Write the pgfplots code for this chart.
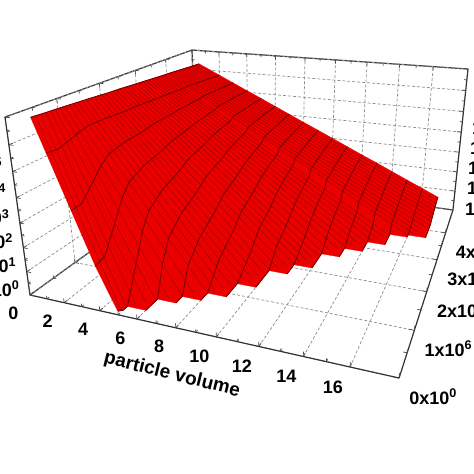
\documentclass[border=0pt]{standalone}
\usepackage{fontspec}
\setmainfont{Liberation Sans}
\usepackage{pgfplots}
\pgfplotsset{compat=1.18}
\makeatletter
% the reference is seen in perspective: divide the linear projection by a depth term
\gdef\perspqpoint#1#2#3{%
  \pgfmathsetmacro\perswt{1/(1-0.010222*#1+0.0958*#2-0.013714*#3)}%
  \global\pgf@x=#1\pgf@xx
  \global\advance\pgf@x by #2\pgf@yx
  \global\advance\pgf@x by #3\pgf@zx
  \global\pgf@y=#1\pgf@xy
  \global\advance\pgf@y by #2\pgf@yy
  \global\advance\pgf@y by #3\pgf@zy
  \global\pgf@x=\perswt\pgf@x
  \global\pgf@y=\perswt\pgf@y
}
\makeatother
% columns x = const; y in units of 10^6; z = log10 of the value
\pgfplotstableread[row sep=\\]{
x y z\\
1.4 0 7.1\\ 1.38 .12 7.08\\ 1.36 .22 7.06\\ 1.31 .52 7.02\\ 1.27 .7 6.99\\ 1.24 .9 6.96\\ 1.17 1.28 6.9\\ 1.08 1.79 6.81\\ 1.02 2.09 6.77\\ .94 2.57 6.69\\ .88 2.87 6.64\\ .82 3.22 6.58\\ .75 3.62 6.52\\ .73 3.7 6.51\\ .64 4.2 6.43\\ .57 4.6 6.36\\ .5 5 6.3\\ .5 5 nan\\
2 0 5.88\\ 2 .12 5.85\\ 2 .22 5.82\\ 2 .52 5.99\\ 2 .7 6.1\\ 2 .9 6.18\\ 2 1.28 6.17\\ 2 1.79 6.1\\ 2 2.09 6.1\\ 2 2.57 6.05\\ 2 2.87 6.03\\ 2 3.22 5.99\\ 2 3.62 5.95\\ 2 3.7 5.97\\ 2 4.2 5.9\\ 2 4.6 5.84\\ 2 5 5.78\\ 2 5 nan\\
3 0 3.85\\ 3 .12 3.87\\ 3 .22 3.88\\ 3 .52 4.49\\ 3 .7 4.88\\ 3 .9 5.15\\ 3 1.28 5.29\\ 3 1.79 5.34\\ 3 2.09 5.42\\ 3 2.57 5.45\\ 3 2.87 5.48\\ 3 3.22 5.49\\ 3 3.62 5.49\\ 3 3.7 5.54\\ 3 4.2 5.5\\ 3 4.6 5.47\\ 3 5 5.43\\ 3 5 nan\\
4 0 1.83\\ 4 .12 1.88\\ 4 .22 1.94\\ 4 .52 2.99\\ 4 .7 3.66\\ 4 .9 4.12\\ 4 1.28 4.41\\ 4 1.79 4.58\\ 4 2.09 4.75\\ 4 2.57 4.84\\ 4 2.87 4.93\\ 4 3.22 4.99\\ 4 3.62 5.03\\ 4 3.7 5.11\\ 4 4.2 5.11\\ 4 4.6 5.1\\ 4 5 5.08\\ 4 5 nan\\
5 0 .15\\ 5 .12 0\\ 5 .22 0\\ 5 .52 1.5\\ 5 .7 2.44\\ 5 .9 3.09\\ 5 1.28 3.52\\ 5 1.79 3.82\\ 5 2.09 4.07\\ 5 2.57 4.24\\ 5 2.87 4.38\\ 5 3.22 4.49\\ 5 3.62 4.58\\ 5 3.7 4.69\\ 5 4.2 4.72\\ 5 4.6 4.73\\ 5 5 4.74\\ 5 5 nan\\
6 0 nan\\ 6 .12 nan\\ 6 .22 0\\ 6 .52 0\\ 6 .7 1.22\\ 6 .9 2.06\\ 6 1.28 2.64\\ 6 1.79 3.05\\ 6 2.09 3.39\\ 6 2.57 3.63\\ 6 2.87 3.84\\ 6 3.22 3.99\\ 6 3.62 4.12\\ 6 3.7 4.26\\ 6 4.2 4.32\\ 6 4.6 4.37\\ 6 5 4.39\\ 6 5 nan\\
7 0 nan\\ 7 .12 nan\\ 7 .22 nan\\ 7 .52 0\\ 7 .7 0\\ 7 .9 1.03\\ 7 1.28 1.76\\ 7 1.79 2.29\\ 7 2.09 2.71\\ 7 2.57 3.03\\ 7 2.87 3.29\\ 7 3.22 3.49\\ 7 3.62 3.66\\ 7 3.7 3.84\\ 7 4.2 3.93\\ 7 4.6 4\\ 7 5 4.04\\ 7 5 nan\\
8 0 nan\\ 8 .12 nan\\ 8 .22 nan\\ 8 .52 nan\\ 8 .7 0\\ 8 .9 0\\ 8 1.28 .88\\ 8 1.79 1.53\\ 8 2.09 2.03\\ 8 2.57 2.42\\ 8 2.87 2.74\\ 8 3.22 2.99\\ 8 3.62 3.2\\ 8 3.7 3.41\\ 8 4.2 3.54\\ 8 4.6 3.63\\ 8 5 3.69\\ 8 5 nan\\
9 0 nan\\ 9 .12 nan\\ 9 .22 nan\\ 9 .52 nan\\ 9 .7 nan\\ 9 .9 0\\ 9 1.28 0\\ 9 1.79 .76\\ 9 2.09 1.36\\ 9 2.57 1.82\\ 9 2.87 2.19\\ 9 3.22 2.5\\ 9 3.62 2.75\\ 9 3.7 2.98\\ 9 4.2 3.14\\ 9 4.6 3.27\\ 9 5 3.35\\ 9 5 nan\\
10 0 nan\\ 10 .12 nan\\ 10 .22 nan\\ 10 .52 nan\\ 10 .7 nan\\ 10 .9 nan\\ 10 1.28 0\\ 10 1.79 0\\ 10 2.09 .68\\ 10 2.57 1.21\\ 10 2.87 1.64\\ 10 3.22 2\\ 10 3.62 2.29\\ 10 3.7 2.56\\ 10 4.2 2.75\\ 10 4.6 2.9\\ 10 5 3\\ 10 5 nan\\
11 0 nan\\ 11 .12 nan\\ 11 .22 nan\\ 11 .52 nan\\ 11 .7 nan\\ 11 .9 nan\\ 11 1.28 nan\\ 11 1.79 0\\ 11 2.09 0\\ 11 2.57 .61\\ 11 2.87 1.1\\ 11 3.22 1.5\\ 11 3.62 1.83\\ 11 3.7 2.13\\ 11 4.2 2.36\\ 11 4.6 2.53\\ 11 5 2.65\\ 11 5 nan\\
12 0 nan\\ 12 .12 nan\\ 12 .22 nan\\ 12 .52 nan\\ 12 .7 nan\\ 12 .9 nan\\ 12 1.28 nan\\ 12 1.79 nan\\ 12 2.09 0\\ 12 2.57 0\\ 12 2.87 .55\\ 12 3.22 1\\ 12 3.62 1.37\\ 12 3.7 1.7\\ 12 4.2 1.97\\ 12 4.6 2.17\\ 12 5 2.3\\ 12 5 nan\\
13 0 nan\\ 13 .12 nan\\ 13 .22 nan\\ 13 .52 nan\\ 13 .7 nan\\ 13 .9 nan\\ 13 1.28 nan\\ 13 1.79 nan\\ 13 2.09 nan\\ 13 2.57 0\\ 13 2.87 0\\ 13 3.22 .5\\ 13 3.62 .92\\ 13 3.7 1.28\\ 13 4.2 1.57\\ 13 4.6 1.8\\ 13 5 1.96\\ 13 5 nan\\
14 0 nan\\ 14 .12 nan\\ 14 .22 nan\\ 14 .52 nan\\ 14 .7 nan\\ 14 .9 nan\\ 14 1.28 nan\\ 14 1.79 nan\\ 14 2.09 nan\\ 14 2.57 nan\\ 14 2.87 0\\ 14 3.22 0\\ 14 3.62 .46\\ 14 3.7 .85\\ 14 4.2 1.18\\ 14 4.6 1.43\\ 14 5 1.61\\ 14 5 nan\\
15 0 nan\\ 15 .12 nan\\ 15 .22 nan\\ 15 .52 nan\\ 15 .7 nan\\ 15 .9 nan\\ 15 1.28 nan\\ 15 1.79 nan\\ 15 2.09 nan\\ 15 2.57 nan\\ 15 2.87 nan\\ 15 3.22 0\\ 15 3.62 0\\ 15 3.7 .43\\ 15 4.2 .79\\ 15 4.6 1.06\\ 15 5 1.26\\ 15 5 nan\\
16 0 nan\\ 16 .12 nan\\ 16 .22 nan\\ 16 .52 nan\\ 16 .7 nan\\ 16 .9 nan\\ 16 1.28 nan\\ 16 1.79 nan\\ 16 2.09 nan\\ 16 2.57 nan\\ 16 2.87 nan\\ 16 3.22 nan\\ 16 3.62 0\\ 16 3.7 0\\ 16 4.2 .39\\ 16 4.6 .7\\ 16 5 .92\\ 16 5 nan\\
17 0 nan\\ 17 .12 nan\\ 17 .22 nan\\ 17 .52 nan\\ 17 .7 nan\\ 17 .9 nan\\ 17 1.28 nan\\ 17 1.79 nan\\ 17 2.09 nan\\ 17 2.57 nan\\ 17 2.87 nan\\ 17 3.22 nan\\ 17 3.62 nan\\ 17 3.7 0\\ 17 4.2 0\\ 17 4.6 .33\\ 17 5 .57\\ 17 5 nan\\
}\surfdata
% fine lines of constant y, each from the ridge to where it reaches the floor
\pgfplotstableread[row sep=\\]{
x y z\\
1.38 .1 7.08\\ 4.94 .1 0\\ 0 .1 nan\\ 1.36 .2 7.07\\ 4.99 .2 0\\ 0 .2 nan\\ 1.35 .3 7.05\\ 5.27 .3 0\\ 0 .3 nan\\ 1.33 .4 7.04\\ 5.6 .4 0\\ 0 .4 nan\\ 1.31 .5 7.02\\ 5.93 .5 0\\ 0 .5 nan\\
1.29 .6 7\\ 6.44 .6 0\\ 0 .6 nan\\ 1.27 .7 6.99\\ 7 .7 0\\ 0 .7 nan\\ 1.26 .8 6.97\\ 7.5 .8 0\\ 0 .8 nan\\ 1.24 .9 6.96\\ 8 .9 0\\ 0 .9 nan\\ 1.22 1 6.94\\ 8.26 1 0\\ 0 1 nan\\
1.2 1.1 6.92\\ 8.53 1.1 0\\ 0 1.1 nan\\ 1.18 1.2 6.91\\ 8.79 1.2 0\\ 0 1.2 nan\\ 1.17 1.3 6.89\\ 9.04 1.3 0\\ 0 1.3 nan\\ 1.15 1.4 6.88\\ 9.24 1.4 0\\ 0 1.4 nan\\ 1.13 1.5 6.86\\ 9.43 1.5 0\\ 0 1.5 nan\\
1.11 1.6 6.84\\ 9.63 1.6 0\\ 0 1.6 nan\\ 1.09 1.7 6.83\\ 9.82 1.7 0\\ 0 1.7 nan\\ 1.08 1.8 6.81\\ 10.03 1.8 0\\ 0 1.8 nan\\ 1.06 1.9 6.8\\ 10.37 1.9 0\\ 0 1.9 nan\\ 1.04 2 6.78\\ 10.7 2 0\\ 0 2 nan\\
1.02 2.1 6.76\\ 11.02 2.1 0\\ 0 2.1 nan\\ 1 2.2 6.75\\ 11.23 2.2 0\\ 0 2.2 nan\\ .99 2.3 6.73\\ 11.44 2.3 0\\ 0 2.3 nan\\ .97 2.4 6.72\\ 11.65 2.4 0\\ 0 2.4 nan\\ .95 2.5 6.7\\ 11.85 2.5 0\\ 0 2.5 nan\\
.93 2.6 6.68\\ 12.1 2.6 0\\ 0 2.6 nan\\ .91 2.7 6.67\\ 12.43 2.7 0\\ 0 2.7 nan\\ .9 2.8 6.65\\ 12.77 2.8 0\\ 0 2.8 nan\\ .88 2.9 6.64\\ 13.09 2.9 0\\ 0 2.9 nan\\ .86 3 6.62\\ 13.37 3 0\\ 0 3 nan\\
.84 3.1 6.6\\ 13.66 3.1 0\\ 0 3.1 nan\\ .82 3.2 6.59\\ 13.94 3.2 0\\ 0 3.2 nan\\ .81 3.3 6.57\\ 14.2 3.3 0\\ 0 3.3 nan\\ .79 3.4 6.56\\ 14.45 3.4 0\\ 0 3.4 nan\\ .77 3.5 6.54\\ 14.7 3.5 0\\ 0 3.5 nan\\
.75 3.6 6.52\\ 14.95 3.6 0\\ 0 3.6 nan\\ .73 3.7 6.51\\ 16 3.7 0\\ 0 3.7 nan\\ .72 3.8 6.49\\ 16.2 3.8 0\\ 0 3.8 nan\\ .7 3.9 6.48\\ 16.4 3.9 0\\ 0 3.9 nan\\ .68 4 6.46\\ 16.6 4 0\\ 0 4 nan\\
.66 4.1 6.44\\ 16.8 4.1 0\\ 0 4.1 nan\\ .64 4.2 6.43\\ 17 4.2 0\\ 0 4.2 nan\\ .63 4.3 6.41\\ 17 4.3 .09\\ 0 4.3 nan\\ .61 4.4 6.4\\ 17 4.4 .17\\ 0 4.4 nan\\ .59 4.5 6.38\\ 17 4.5 .25\\ 0 4.5 nan\\
.57 4.6 6.36\\ 17 4.6 .33\\ 0 4.6 nan\\ .55 4.7 6.35\\ 17 4.7 .39\\ 0 4.7 nan\\ .54 4.8 6.33\\ 17 4.8 .45\\ 0 4.8 nan\\ .52 4.9 6.32\\ 17 4.9 .51\\ 0 4.9 nan\\
}\hatchdata
\begin{document}
\begin{tikzpicture}
\useasboundingbox (0,0) rectangle (474pt,474pt);
\clip (0,0) rectangle (474pt,474pt);
\begin{axis}[
  disabledatascaling,
  execute at begin axis={\global\let\pgfplotsqpointxyz\perspqpoint},
  at={(30pt,179pt)},anchor=origin,
  x={(16.73pt,-3.764pt)},y={(49.33pt,35.57pt)},z={(-3.23pt,22.98pt)},
  xmin=0,xmax=18,ymin=0,ymax=5,zmin=0,zmax=7,
  clip=false,
  axis line style={draw=black!80,line width=1.2pt},
  tick style={draw=black!70,line width=.7pt},
  xtick={0,2,...,16},xticklabels={0,2,4,6,8,10,12,14,16},
  ytick={0,1,2,3,4},yticklabels={0x10\textsuperscript{0},1x10\textsuperscript{6},2x10\textsuperscript{6},3x10\textsuperscript{6},4x10\textsuperscript{6}},
  ztick={0,...,7},zticklabels={10\textsuperscript{0},10\textsuperscript{1},10\textsuperscript{2},10\textsuperscript{3},10\textsuperscript{4},10\textsuperscript{5},10\textsuperscript{6},10\textsuperscript{7}},
  minor tick num=1,
  ticklabel style={font=\fontsize{18}{18}\selectfont\bfseries,text=black},
  xticklabel style={xshift=-12pt,yshift=-8pt},
  yticklabel style={xshift=17pt},
  zticklabel style={xshift=-6pt,yshift=10pt},
  grid=major,
  major grid style={densely dashed,draw=black!45,line width=.7pt},
  colormap={flatred}{rgb255=(235,0,0) rgb255=(235,0,0)},
  unbounded coords=jump,
]
\addplot3[surf,shader=faceted,faceted color=red!92!black,line width=.3pt,mesh/ordering=y varies,mesh/rows=18,mesh/cols=17] table[x=x,y=y,z=z] {\surfdata};
\addplot3[no marks,draw=red!66!black,line width=.5pt] table[x=x,y=y,z=z] {\hatchdata};
\addplot3[no marks,draw=red!45!black,line width=.85pt] table[x=x,y=y,z=z] {\surfdata};
\end{axis}
\node[rotate=-14,font=\fontsize{19}{19}\selectfont\bfseries,text=black] at (172pt,99pt) {particle volume};
% the same decades repeated at the right-hand vertical, cut by the picture's edge
\begin{scope}[every node/.style={anchor=west,inner sep=0pt,font=\fontsize{18}{18}\selectfont\bfseries,text=black}]
\node at (465pt,266pt) {10\textsuperscript{0}};
\node at (467pt,287pt) {10\textsuperscript{1}};
\node at (468pt,307pt) {10\textsuperscript{2}};
\node at (470pt,327pt) {10\textsuperscript{3}};
\node at (472pt,347pt) {10\textsuperscript{4}};
\end{scope}
\end{tikzpicture}
\end{document}
